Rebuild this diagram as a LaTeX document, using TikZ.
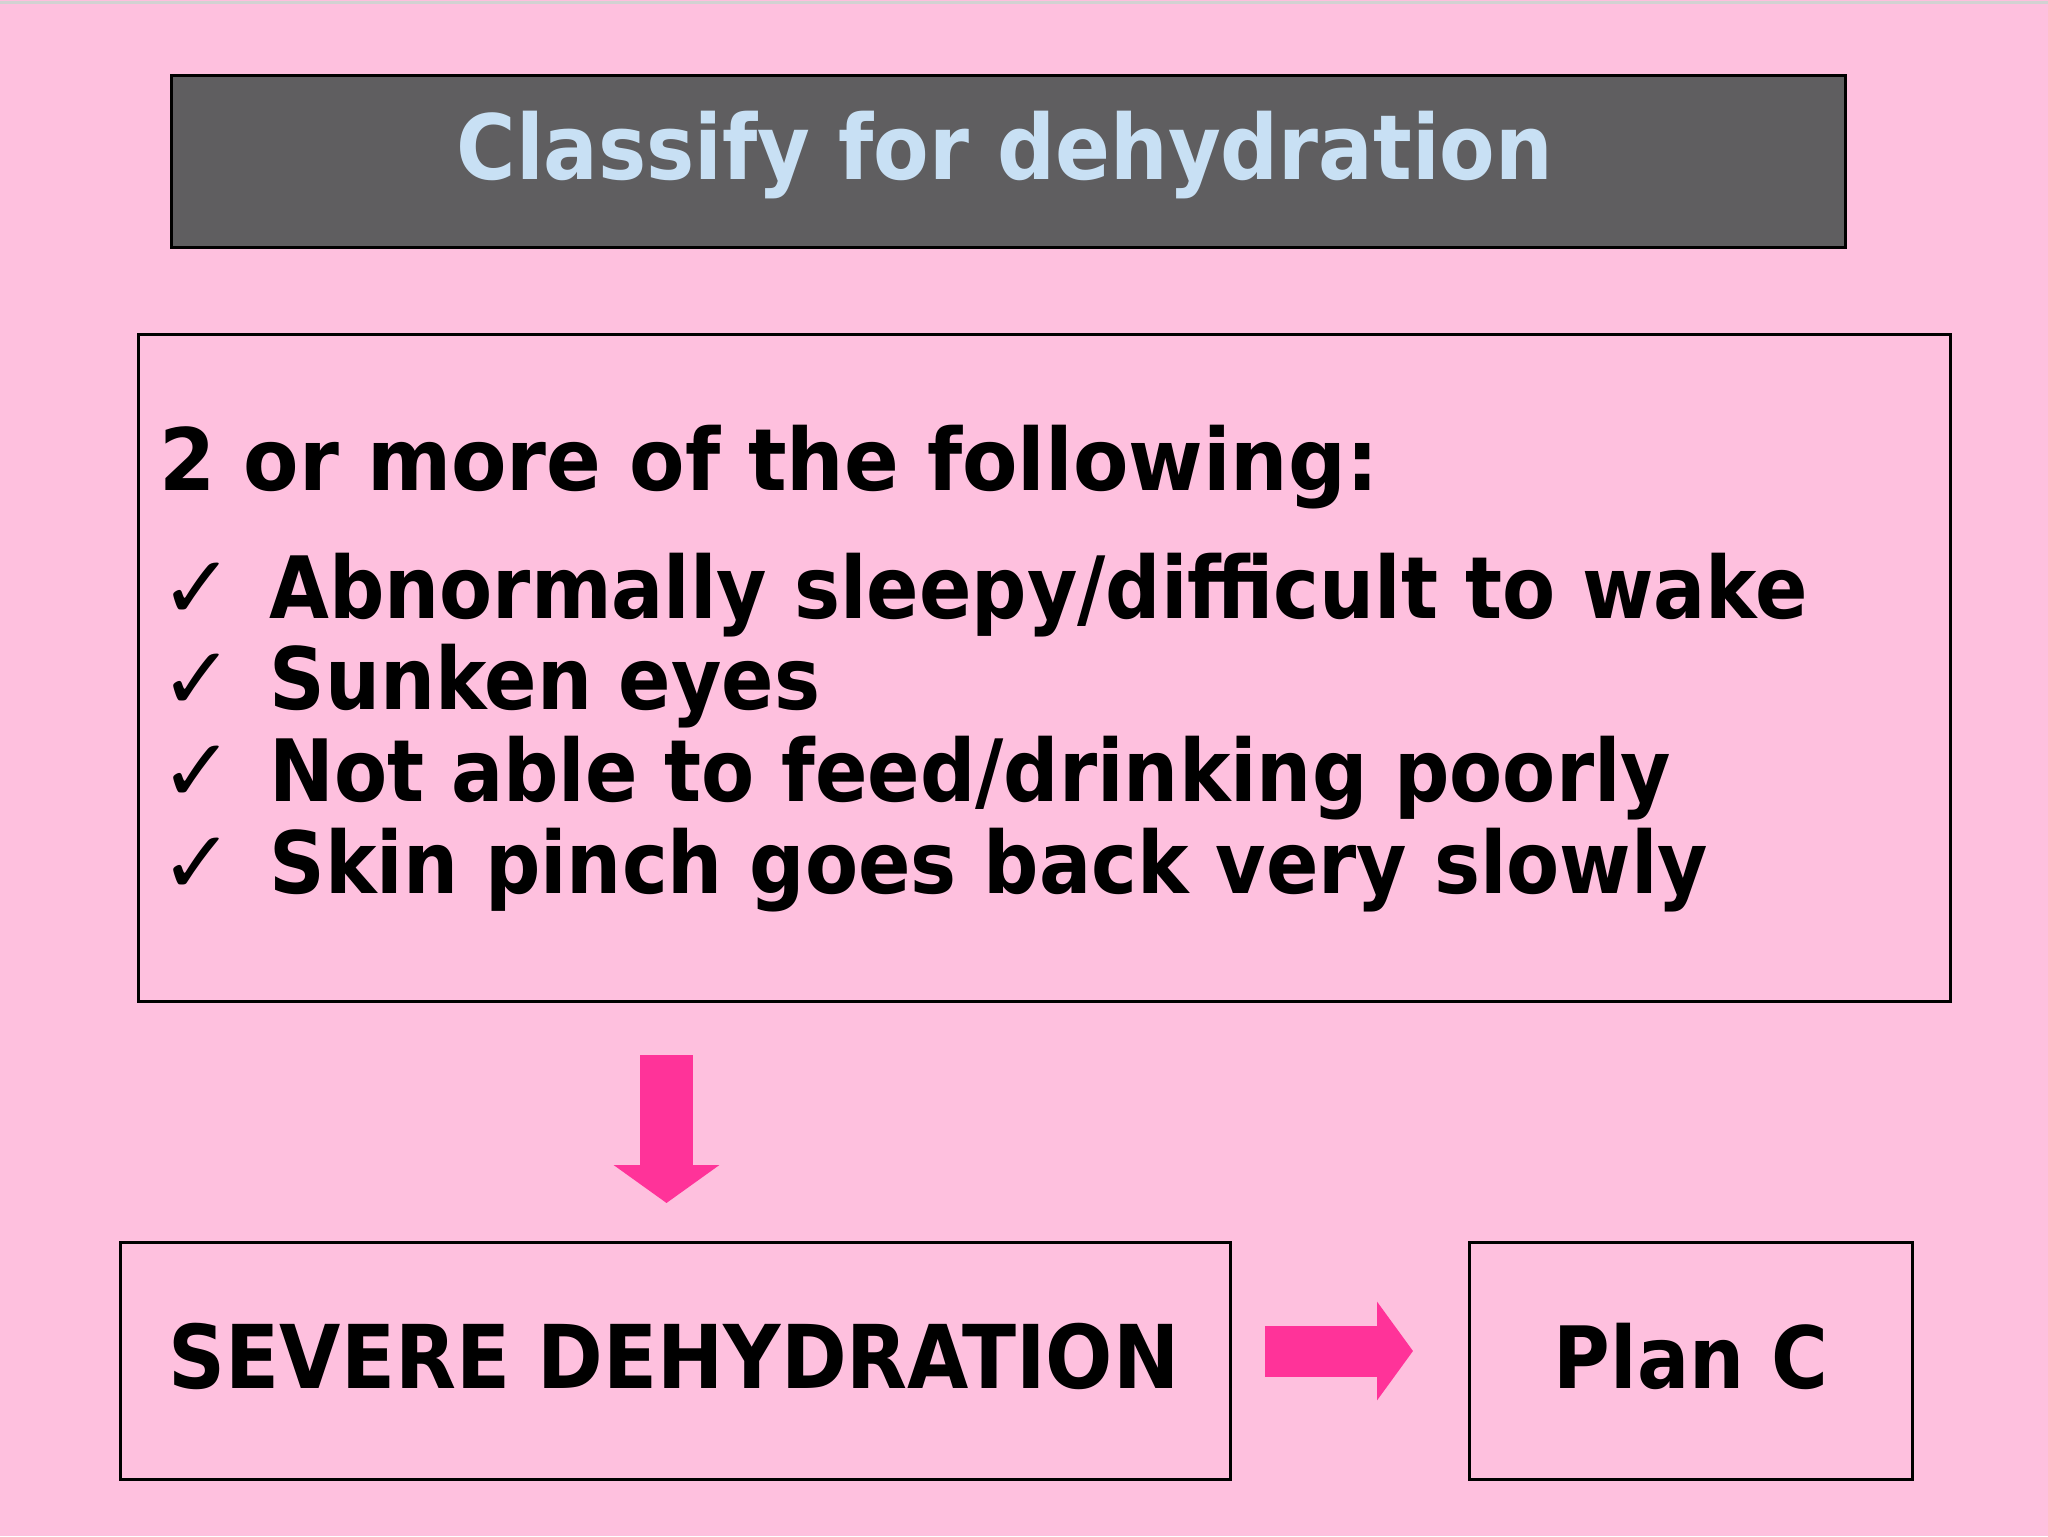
\documentclass[tikz,border=0pt]{standalone}
\usepackage{fontspec}
\usetikzlibrary{arrows.meta}
\setmainfont{DejaVu Sans Condensed}
\newfontfamily\checkfont{DejaVu Sans}

\definecolor{slidepink}{RGB}{254,192,222}
\definecolor{titlegray}{RGB}{95,94,96}
\definecolor{titleblue}{RGB}{200,224,244}
\definecolor{arrowpink}{RGB}{255,51,153}

\tikzset{
  box/.style={draw=black, line width=1.5pt, inner sep=0pt},
  bigtext/.style={font=\fontsize{43}{50}\selectfont\bfseries, text=black, inner sep=0pt},
  bigarrow/.style={draw=arrowpink, line width=26.5pt, -{Triangle[length=19pt, width=52pt]}},
}

\begin{document}
\begin{tikzpicture}[%
      x=0.5pt, y=-0.5pt,
      ]
      \useasboundingbox (0,0) rectangle (2048,1536);
      \fill [slidepink] (0,0) rectangle (2048,1536);
      \draw [color=gray!35, line width=1.5pt] (0,3) -- (2048,3);

      % title bar
      \node [box, fill=titlegray, minimum width=837pt, minimum height=86pt, anchor=north west] (title) at (170,74) {};
      \node [font=\fontsize{45}{50}\selectfont\bfseries, text=titleblue, inner sep=0pt, anchor=base] (titletext) at (1005,179) {Classify for dehydration};

      % signs
      \node [box, minimum width=906pt, minimum height=333.5pt, anchor=north west] (crit) at (137,333) {};
      \node [bigtext, anchor=base west] (head) at (159,490) {\scalebox{1.044}[1]{2 or more of the following:}};
      \node [bigtext, anchor=base west] (item1) at (269,618) {Abnormally sleepy/difficult to wake};
      \node [bigtext, anchor=base west] (item2) at (269,709) {Sunken eyes};
      \node [bigtext, anchor=base west] (item3) at (269,801) {Not able to feed/drinking poorly};
      \node [bigtext, anchor=base west] (item4) at (269,893) {Skin pinch goes back very slowly};
      \foreach \y/\n in {618/1,709/2,801/3,893/4}
        \node [font=\checkfont\fontsize{44}{50}\selectfont, inner sep=0pt, anchor=base west] (check\n) at (160,\y) {✓};

      % classification and treatment
      \node [box, minimum width=555pt, minimum height=118.5pt, anchor=north west] (sev) at (119,1241) {};
      \node [font=\fontsize{44}{50}\selectfont\bfseries, inner sep=0pt, anchor=base] (sevtext) at (674,1388) {SEVERE DEHYDRATION};
      \node [box, minimum width=221.5pt, minimum height=118.5pt, anchor=north west] (plan) at (1468,1241) {};
      \node [font=\fontsize{43}{50}\selectfont\bfseries, inner sep=0pt, anchor=base] (plantext) at (1691,1388) {Plan C};

      \draw [bigarrow, shorten <=26pt, shorten >=19pt] ([xshift=-4.5pt]crit.south -| sev.north) -- ([xshift=-4.5pt]sev.north);
      \draw [bigarrow, line width=25.5pt, -{Triangle[length=18pt, width=48.5pt]}, shorten <=16.5pt, shorten >=27.5pt] ([yshift=5pt]sev.east) -- ([yshift=5pt]plan.west);
\end{tikzpicture}
\end{document}
